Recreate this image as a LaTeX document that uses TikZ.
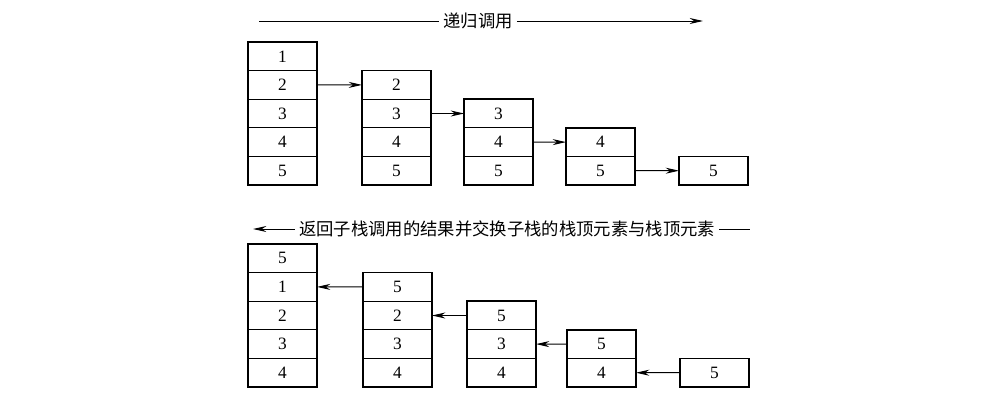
\documentclass[tikz,border=0pt]{standalone}
\usepackage{fontspec}
\setmainfont{Liberation Serif}
\newfontfamily\cjk{Noto Sans CJK SC}
\usetikzlibrary{positioning,arrows.meta}

\tikzset{
  cell/.style={draw, line width=0.6pt, minimum width=51.75pt, minimum height=21.45pt,
    inner sep=0pt, outer sep=0pt, font=\fontsize{13}{13}\selectfont},
  title/.style={inner sep=3pt, font=\cjk\fontsize{13}{13}\selectfont},
  outer/.style={line width=1.1pt},
  arr/.style={-{Stealth[length=10pt, width=4.5pt]}, line width=0.7pt}
}

\begin{document}
\begin{tikzpicture}[x=0.75pt, y=-0.75pt, node distance=0pt]
    \useasboundingbox (0,0) rectangle (993,408);

    % recursive calls
    \node (rec) [title] at (478,21) {递归调用};
    \coordinate (recL) at (259,21);
    \coordinate (recR) at (703,21);
    \draw[line width=0.7pt] (recL) -- (rec.west);
    \draw[arr] (rec.east) -- (recR);

    \node (a1) [cell, anchor=north west] at (248,42) {1};
    \node (a2) [cell, below=of a1] {2};
    \node (a3) [cell, below=of a2] {3};
    \node (a4) [cell, below=of a3] {4};
    \node (a5) [cell, below=of a4] {5};
    \draw[outer] (a1.north west) rectangle (a5.south east);

    \node (b2) [cell, anchor=north west] at (362,70.6) {2};
    \node (b3) [cell, below=of b2] {3};
    \node (b4) [cell, below=of b3] {4};
    \node (b5) [cell, below=of b4] {5};
    \draw[outer] (b2.north west) rectangle (b5.south east);

    \node (c3) [cell, anchor=north west] at (464,99.2) {3};
    \node (c4) [cell, below=of c3] {4};
    \node (c5) [cell, below=of c4] {5};
    \draw[outer] (c3.north west) rectangle (c5.south east);

    \node (d4) [cell, anchor=north west] at (566,127.8) {4};
    \node (d5) [cell, below=of d4] {5};
    \draw[outer] (d4.north west) rectangle (d5.south east);

    \node (e5) [cell, anchor=north west] at (679,156.4) {5};
    \draw[outer] (e5.north west) rectangle (e5.south east);

    \draw[arr] (a2.east) -- (b2.west);
    \draw[arr] (b3.east) -- (c3.west);
    \draw[arr] (c4.east) -- (d4.west);
    \draw[arr] (d5.east) -- (e5.west);

    % returning and swapping tops
    \node (ret) [title] at (507,229) {返回子栈调用的结果并交换子栈的栈顶元素与栈顶元素};
    \coordinate (retL) at (253,229);
    \coordinate (retR) at (750,229);
    \draw[arr] (ret.west) -- (retL);
    \draw[line width=0.7pt] (ret.east) -- (retR);

    \node (p1) [cell, anchor=north west] at (248,244) {5};
    \node (p2) [cell, below=of p1] {1};
    \node (p3) [cell, below=of p2] {2};
    \node (p4) [cell, below=of p3] {3};
    \node (p5) [cell, below=of p4] {4};
    \draw[outer] (p1.north west) rectangle (p5.south east);

    \node (q1) [cell, anchor=north west] at (363,272.6) {5};
    \node (q2) [cell, below=of q1] {2};
    \node (q3) [cell, below=of q2] {3};
    \node (q4) [cell, below=of q3] {4};
    \draw[outer] (q1.north west) rectangle (q4.south east);

    \node (r1) [cell, anchor=north west] at (467,301.2) {5};
    \node (r2) [cell, below=of r1] {3};
    \node (r3) [cell, below=of r2] {4};
    \draw[outer] (r1.north west) rectangle (r3.south east);

    \node (s1) [cell, anchor=north west] at (567,329.8) {5};
    \node (s2) [cell, below=of s1] {4};
    \draw[outer] (s1.north west) rectangle (s2.south east);

    \node (t1) [cell, anchor=north west] at (680,358.4) {5};
    \draw[outer] (t1.north west) rectangle (t1.south east);

    \draw[arr] (q1.west) -- (p2.east);
    \draw[arr] (r1.west) -- (q2.east);
    \draw[arr] (s1.west) -- (r2.east);
    \draw[arr] (t1.west) -- (s2.east);
\end{tikzpicture}
\end{document}
